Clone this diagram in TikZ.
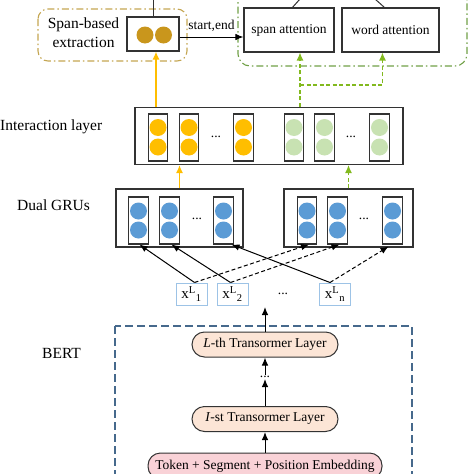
\documentclass[tikz,border=0pt]{standalone}
\usepackage{fontspec}
\setmainfont{Liberation Serif}
\usetikzlibrary{arrows.meta,calc}
\definecolor{goldline}{RGB}{196,166,82}
\definecolor{golddark}{RGB}{201,150,28}
\definecolor{yel}{RGB}{255,190,0}
\definecolor{lgr}{RGB}{200,226,178}
\definecolor{grnline}{RGB}{112,160,70}
\definecolor{grnarr}{RGB}{130,185,30}
\definecolor{blu}{RGB}{91,155,213}
\definecolor{xbord}{RGB}{157,195,230}
\definecolor{bertline}{RGB}{70,105,140}
\definecolor{peach}{RGB}{252,229,214}
\definecolor{pinkfill}{RGB}{249,210,215}
\begin{document}
\begin{tikzpicture}[x=1pt,y=-1pt,
  txt/.style={font=\fontsize{13.5}{15}\selectfont},
  lbl/.style={font=\fontsize{15.5}{18}\selectfont, anchor=west, inner sep=0pt},
  outer/.style={draw=black!80, line width=1.1pt, inner sep=0pt, fill=white},
  colbox/.style={draw=black!80, line width=1.1pt, minimum width=19.5pt, minimum height=47pt, inner sep=0pt},
  circ/.style={circle, minimum size=17pt, inner sep=0pt},
  xbox/.style={draw=xbord, line width=1pt, minimum width=31pt, minimum height=22pt, inner sep=0pt, font=\fontsize{15}{17}\selectfont},
  layer/.style={draw=black!80, line width=1pt, rounded corners=12.5pt, minimum height=25pt, inner sep=0pt, txt},
  blk/.style={-{Latex[length=8pt,width=6.5pt]}, line width=1pt},
  dblk/.style={blk, dash pattern=on 4pt off 2.5pt},
  yarr/.style={draw=yel, -{Latex[length=8pt,width=7pt]}, line width=1.3pt},
  garr/.style={draw=grnarr, -{Latex[length=8pt,width=7pt]}, line width=1.2pt, dash pattern=on 4pt off 2.5pt},
  dashdot/.style={line width=1.1pt, dash pattern=on 7pt off 3pt on 1.5pt off 3pt}
]
\useasboundingbox (0,0) rectangle (474,474);

% ---- top: span-based extraction
\draw[dashdot, draw=goldline, rounded corners=10pt] (38,9) rectangle (187,61);
\node[font=\fontsize{15.5}{19}\selectfont, align=center, inner sep=0pt] (spanlbl) at (83.5,33) {Span-based\\extraction};
\node[outer, minimum width=52pt, minimum height=34pt] (goldin) at (153,34) {};
\node[circ, fill=golddark] (g1) at (145,35) {};
\node[circ, fill=golddark] (g2) at (163.5,35) {};
\coordinate (goldtop) at (153,-2);
\draw[line width=1pt, black!80] (goldin.north) -- (goldtop);

% ---- top: attention
\draw[dashdot, draw=grnline, rounded corners=12pt] (238,-20) rectangle (467,66);
\node[outer, minimum width=90pt, minimum height=44pt, txt] (spanatt) at (289,30) {span attention};
\node[outer, minimum width=97pt, minimum height=44pt, txt] (wordatt) at (390.5,30) {word attention};
\coordinate (satop) at (300,-1);
\coordinate (watop) at (375,-1);
\draw[line width=1pt, black!80] ($(spanatt.north west)+(49,0)$) -- (satop);
\draw[line width=1pt, black!80] ($(wordatt.north west)+(43,0)$) -- (watop);
\draw[blk] (goldin.east |- 0,37) -- node[above, txt, inner sep=3pt, yshift=2pt] {start,end} (spanatt.west |- 0,37);

% ---- interaction layer
\node[lbl] (intlbl) at (0,127) {Interaction layer};
\node[outer, minimum width=268pt, minimum height=57pt] (inter) at (269,136) {};
\foreach \n/\cx/\c in {i1/158/yel, i2/189/yel, i3/243.5/yel, i4/294/lgr, i5/324.5/lgr, i6/379.5/lgr} {
  \node[colbox] (\n) at (\cx,137.5) {};
  \node[circ, fill=\c] (\n a) at (\cx,127.5) {};
  \node[circ, fill=\c] (\n b) at (\cx,147) {};
}
\node[txt, inner sep=0pt] (idots1) at (216,137) {...};
\node[txt, inner sep=0pt] (idots2) at (351,137) {...};

% ---- dual GRUs
\node[lbl] (grulbl) at (17,205) {Dual GRUs};
\node[outer, minimum width=127pt, minimum height=58pt] (gruL) at (179.5,218) {};
\node[outer, minimum width=129pt, minimum height=58pt] (gruR) at (348.5,218) {};
\foreach \n/\cx in {l1/138.5, l2/169.5, l3/223.5, r1/307, r2/337.5, r3/392.5} {
  \node[colbox] (\n) at (\cx,220.5) {};
  \node[circ, fill=blu] (\n a) at (\cx,211) {};
  \node[circ, fill=blu] (\n b) at (\cx,230) {};
}
\node[txt, inner sep=0pt] (gdots1) at (197,219) {...};
\node[txt, inner sep=0pt] (gdots2) at (364,219) {...};

% ---- x nodes
\node[xbox] (x1) at (191.5,294) {x\textsuperscript{L}\textsubscript{1}};
\node[xbox] (x2) at (232.5,294) {x\textsuperscript{L}\textsubscript{2}};
\node[xbox] (xn) at (335,294) {x\textsuperscript{L}\textsubscript{n}};
\node[txt, inner sep=0pt] (xdots) at (283,294) {...};

% connectors GRU <- x
\draw[blk] ($(x1.north)+(3,0)$) -- ($(l1.south)+(1,0)$);
\draw[blk] ($(x2.north)+(-2,0)$) -- ($(l2.south)+(2,0)$);
\draw[blk] ($(xn.north)+(-5,0)$) -- ($(l3.south)+(8,0)$);
\draw[dblk] ($(x1.north)+(3,0)$) -- ($(r1.south)+(2,0)$);
\draw[dblk] ($(x2.north)+(-2,0)$) -- ($(r2.south)+(2,0)$);
\draw[dblk] ($(xn.north)+(-5,0)$) -- ($(r3.south)+(-4,2)$);

% GRU -> interaction
\draw[yarr] (gruL.north) -- (gruL.north |- inter.south);
\draw[garr] (gruR.north) -- (gruR.north |- inter.south);

% interaction -> top
\coordinate (ytop) at (156,107);
\draw[yarr] (ytop) -- (ytop |- goldin.south);
\coordinate (gsplit) at (300,85);
\draw[garr] (gsplit |- inter.north) -- (gsplit |- spanatt.south);
\draw[garr] (gsplit) -| ($(wordatt.south west)+(41,0)$);

% ---- BERT
\node[lbl] (bertlbl) at (42,353) {BERT};
\draw[line width=1.1pt, draw=bertline, dash pattern=on 8pt off 4pt] (115,326) rectangle (412,500);
\node[layer, fill=peach, minimum width=146pt] (lth) at (265,344.5) {\textit{L}-th Transormer Layer};
\node[txt, inner sep=1pt] (ldots) at (265,377) {...};
\node[layer, fill=peach, minimum width=146pt] (fst) at (265,419) {\textit{I}-st Transormer Layer};
\node[layer, fill=pinkfill, minimum width=234pt, minimum height=26pt] (emb) at (265,466) {Token + Segment + Position Embedding};
\coordinate (bertout) at (265,307);
\draw[blk] (lth.north) -- (bertout);
\draw[blk] (ldots.north) -- (lth.south);
\draw[blk] (fst.north) -- (ldots.south);
\draw[blk] (emb.north) -- (fst.south);
\end{tikzpicture}
\end{document}
